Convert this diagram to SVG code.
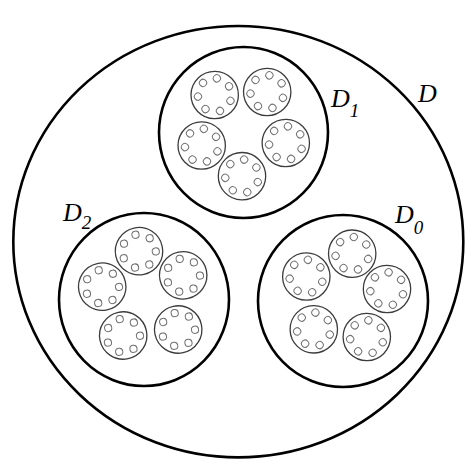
<svg xmlns="http://www.w3.org/2000/svg" xmlns:xlink="http://www.w3.org/1999/xlink" width="474" height="474" viewBox="0 0 474 474">
<style>
.big{fill:none;stroke:#000;stroke-width:2.6}
.m{fill:#fff;stroke:#3c3c3c;stroke-width:1.3}
.s{fill:#fff;stroke:#707070;stroke-width:1}
.lbl{font-family:"Liberation Serif","Times New Roman",serif;font-style:italic;font-size:26px;fill:#000}
.sub{font-size:19px}
</style>
<defs>
<g id="ring">
<circle class="s" cx="16.8" cy="0" r="3.6"/>
<circle class="s" cx="10.47" cy="13.13" r="3.6"/>
<circle class="s" cx="-3.74" cy="16.38" r="3.6"/>
<circle class="s" cx="-15.14" cy="7.29" r="3.6"/>
<circle class="s" cx="-15.14" cy="-7.29" r="3.6"/>
<circle class="s" cx="-3.74" cy="-16.38" r="3.6"/>
<circle class="s" cx="10.47" cy="-13.13" r="3.6"/>
</g>
<g id="strand">
<circle class="m" cx="0" cy="0" r="23.7"/>
<use xlink:href="#ring" href="#ring"/>
</g>
</defs>
<rect width="474" height="474" fill="#fff"/>
<g id="D">
<ellipse class="big" cx="238.3" cy="241.7" rx="225" ry="215.7"/>
<text class="lbl" x="418" y="102">D</text>
</g>
<g id="D1">
<ellipse class="big" cx="243.5" cy="132.5" rx="84.5" ry="85.5"/>
<use xlink:href="#strand" href="#strand" transform="translate(214.7,95) rotate(-134)"/>
<use xlink:href="#strand" href="#strand" transform="translate(267.2,92) rotate(-134)"/>
<use xlink:href="#strand" href="#strand" transform="translate(201.7,145.5) rotate(-134)"/>
<use xlink:href="#strand" href="#strand" transform="translate(285.8,143) rotate(-134)"/>
<use xlink:href="#strand" href="#strand" transform="translate(242,176.2) rotate(-134)"/>
<text class="lbl" x="331" y="107">D<tspan class="sub" dy="10">1</tspan></text>
</g>
<g id="D2">
<ellipse class="big" cx="144" cy="299.5" rx="85" ry="86.5"/>
<use xlink:href="#strand" href="#strand" transform="translate(139,251.2) rotate(-102)"/>
<use xlink:href="#strand" href="#strand" transform="translate(183.2,275.3) rotate(-102)"/>
<use xlink:href="#strand" href="#strand" transform="translate(102.2,286.7) rotate(-102)"/>
<use xlink:href="#strand" href="#strand" transform="translate(123.2,335.5) rotate(-102)"/>
<use xlink:href="#strand" href="#strand" transform="translate(178.2,329.5) rotate(-102)"/>
<text class="lbl" x="63" y="221">D<tspan class="sub" dy="8">2</tspan></text>
</g>
<g id="D0">
<ellipse class="big" cx="343" cy="301" rx="85" ry="86"/>
<use xlink:href="#strand" href="#strand" transform="translate(352.2,253.7) rotate(-136)"/>
<use xlink:href="#strand" href="#strand" transform="translate(387,289) rotate(-136)"/>
<use xlink:href="#strand" href="#strand" transform="translate(306.3,276.5) rotate(-136)"/>
<use xlink:href="#strand" href="#strand" transform="translate(313.8,329.3) rotate(-136)"/>
<use xlink:href="#strand" href="#strand" transform="translate(366.8,337) rotate(-136)"/>
<text class="lbl" x="395" y="223">D<tspan class="sub" dy="11">0</tspan></text>
</g>
<g id="connectors"/>
</svg>
